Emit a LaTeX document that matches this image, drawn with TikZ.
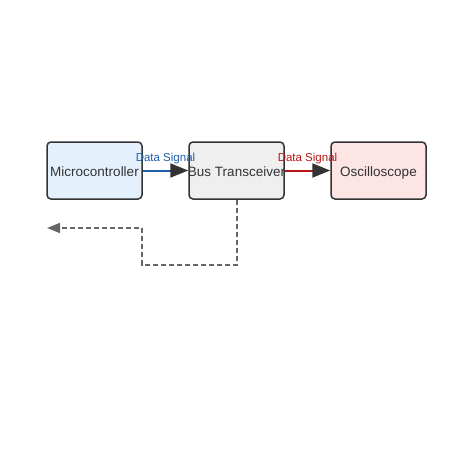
\documentclass[tikz,border=0pt]{standalone}
\usepackage{fontspec}
\setmainfont{Liberation Sans}
\usetikzlibrary{arrows.meta,positioning}

\definecolor{mcfill}{HTML}{E4F1FD}
\definecolor{busfill}{HTML}{EFEFEF}
\definecolor{oscfill}{HTML}{FDE5E6}
\definecolor{edge}{HTML}{333333}
\definecolor{sigblue}{HTML}{1F5FA8}
\definecolor{sigred}{HTML}{B81414}
\definecolor{dashgray}{HTML}{666666}

\newcommand{\blocktext}[1]{\makebox[95pt]{#1}}

\tikzset{
  block/.style={draw=edge, line width=1.5pt, rounded corners=4pt, minimum width=95pt, minimum height=57pt, inner sep=0pt, text height=11pt, text depth=0pt, font=\fontsize{13.5}{16}\selectfont, text=edge},
  sig/.style={line width=2pt, -{Triangle[length=18pt,width=14pt,fill=edge,color=edge]}},
  siglabel/.style={font=\fontsize{11.5}{14}\selectfont, inner sep=1pt}
}

\begin{document}
\begin{tikzpicture}[x=1pt,y=-1pt]
\useasboundingbox (0,0) rectangle (474,474);

\node (mc) at (94.5,170.5) [block, fill=mcfill] {\blocktext{Microcontroller}};
\node (bus) [block, fill=busfill, right=45.5pt of mc] {\blocktext{Bus Transceiver}};
\node (osc) [block, fill=oscfill, right=45.5pt of bus] {\blocktext{Oscilloscope}};

\draw[sig, sigblue] (mc) -- (bus) node [midway, above=5pt, siglabel, text=sigblue] {Data Signal};
\draw[sig, sigred] (bus) -- (osc) node [midway, above=5pt, siglabel, text=sigred] {Data Signal};

% feedback path
\coordinate (fbtop) at ([xshift=0.5pt]bus.south);
\coordinate (fb0) at (fbtop |- 0,265);
\coordinate (fb1) at (142,228);
\coordinate (fbend) at (47,228);
\draw[dashgray, line width=1.6pt, dash pattern=on 5pt off 3pt, -{Triangle[length=13pt,width=10pt]}]
  (fbtop) -- (fb0) -| (fb1) -- (fbend);
\end{tikzpicture}
\end{document}
